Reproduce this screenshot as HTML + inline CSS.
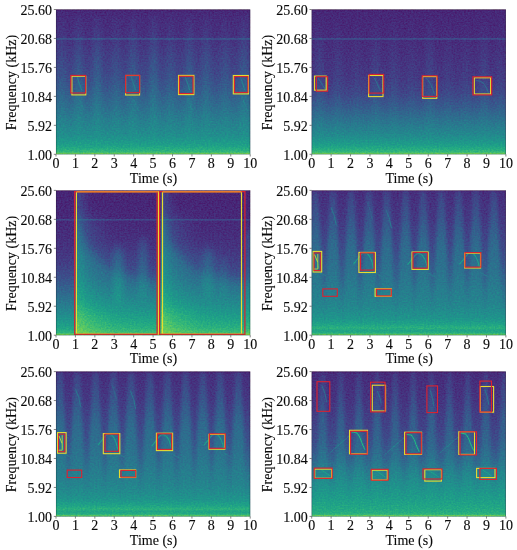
<!DOCTYPE html>
<html><head><meta charset="utf-8"><title>Spectrograms</title>
<style>
html,body{margin:0;padding:0;background:#fff;}
svg{display:block;}
svg text{font-family:"Liberation Serif","Times New Roman",serif;font-size:14px;fill:#0a0a0a;stroke:#0a0a0a;stroke-width:0.12px;}
</style></head><body>
<svg width="517" height="550" viewBox="0 0 517 550"><defs><linearGradient id="bgA" x1="0" y1="0" x2="0" y2="1"><stop offset="0" stop-color="rgb(29,29,29)"/><stop offset="0.2" stop-color="rgb(36,36,36)"/><stop offset="0.33" stop-color="rgb(46,46,46)"/><stop offset="0.45" stop-color="rgb(55,55,55)"/><stop offset="0.555" stop-color="rgb(69,69,69)"/><stop offset="0.667" stop-color="rgb(88,88,88)"/><stop offset="0.76" stop-color="rgb(106,106,106)"/><stop offset="0.87" stop-color="rgb(124,124,124)"/><stop offset="0.94" stop-color="rgb(144,144,144)"/><stop offset="0.975" stop-color="rgb(163,163,163)"/><stop offset="0.986" stop-color="rgb(171,171,171)"/><stop offset="0.992" stop-color="rgb(194,194,194)"/><stop offset="1" stop-color="rgb(204,204,204)"/></linearGradient><linearGradient id="bgB" x1="0" y1="0" x2="0" y2="1"><stop offset="0" stop-color="rgb(28,28,28)"/><stop offset="0.2" stop-color="rgb(31,31,31)"/><stop offset="0.35" stop-color="rgb(36,36,36)"/><stop offset="0.47" stop-color="rgb(41,41,41)"/><stop offset="0.58" stop-color="rgb(52,52,52)"/><stop offset="0.68" stop-color="rgb(73,73,73)"/><stop offset="0.77" stop-color="rgb(96,96,96)"/><stop offset="0.87" stop-color="rgb(120,120,120)"/><stop offset="0.94" stop-color="rgb(143,143,143)"/><stop offset="0.975" stop-color="rgb(163,163,163)"/><stop offset="0.986" stop-color="rgb(171,171,171)"/><stop offset="0.992" stop-color="rgb(194,194,194)"/><stop offset="1" stop-color="rgb(204,204,204)"/></linearGradient><linearGradient id="bgC" x1="0" y1="0" x2="0" y2="1"><stop offset="0" stop-color="rgb(26,26,26)"/><stop offset="0.2" stop-color="rgb(29,29,29)"/><stop offset="0.4" stop-color="rgb(37,37,37)"/><stop offset="0.5" stop-color="rgb(45,45,45)"/><stop offset="0.6" stop-color="rgb(61,61,61)"/><stop offset="0.7" stop-color="rgb(84,84,84)"/><stop offset="0.85" stop-color="rgb(120,120,120)"/><stop offset="0.95" stop-color="rgb(148,148,148)"/><stop offset="0.985" stop-color="rgb(166,166,166)"/><stop offset="0.992" stop-color="rgb(194,194,194)"/><stop offset="1" stop-color="rgb(204,204,204)"/></linearGradient><linearGradient id="bgD" x1="0" y1="0" x2="0" y2="1"><stop offset="0" stop-color="rgb(33,33,33)"/><stop offset="0.2" stop-color="rgb(41,41,41)"/><stop offset="0.4" stop-color="rgb(56,56,56)"/><stop offset="0.5" stop-color="rgb(66,66,66)"/><stop offset="0.6" stop-color="rgb(79,79,79)"/><stop offset="0.7" stop-color="rgb(97,97,97)"/><stop offset="0.8" stop-color="rgb(112,112,112)"/><stop offset="0.88" stop-color="rgb(128,128,128)"/><stop offset="0.925" stop-color="rgb(145,145,145)"/><stop offset="0.95" stop-color="rgb(161,161,161)"/><stop offset="0.968" stop-color="rgb(148,148,148)"/><stop offset="0.985" stop-color="rgb(158,158,158)"/><stop offset="0.994" stop-color="rgb(189,189,189)"/><stop offset="1" stop-color="rgb(204,204,204)"/></linearGradient><linearGradient id="bgE" x1="0" y1="0" x2="0" y2="1"><stop offset="0" stop-color="rgb(31,31,31)"/><stop offset="0.2" stop-color="rgb(38,38,38)"/><stop offset="0.4" stop-color="rgb(51,51,51)"/><stop offset="0.5" stop-color="rgb(61,61,61)"/><stop offset="0.6" stop-color="rgb(79,79,79)"/><stop offset="0.7" stop-color="rgb(105,105,105)"/><stop offset="0.8" stop-color="rgb(125,125,125)"/><stop offset="0.9" stop-color="rgb(143,143,143)"/><stop offset="0.975" stop-color="rgb(158,158,158)"/><stop offset="0.987" stop-color="rgb(168,168,168)"/><stop offset="0.993" stop-color="rgb(194,194,194)"/><stop offset="1" stop-color="rgb(204,204,204)"/></linearGradient><linearGradient id="stk" x1="0" y1="0" x2="0" y2="1"><stop offset="0" stop-color="rgb(255,255,255)" stop-opacity="0.03"/><stop offset="0.15" stop-color="rgb(255,255,255)" stop-opacity="0.07"/><stop offset="0.35" stop-color="rgb(255,255,255)" stop-opacity="0.12"/><stop offset="0.6" stop-color="rgb(255,255,255)" stop-opacity="0.13"/><stop offset="0.8" stop-color="rgb(255,255,255)" stop-opacity="0.07"/><stop offset="0.95" stop-color="rgb(255,255,255)" stop-opacity="0.0"/></linearGradient><linearGradient id="stkD" x1="0" y1="0" x2="0" y2="1"><stop offset="0" stop-color="rgb(255,255,255)" stop-opacity="0.08"/><stop offset="0.2" stop-color="rgb(255,255,255)" stop-opacity="0.13"/><stop offset="0.4" stop-color="rgb(255,255,255)" stop-opacity="0.17"/><stop offset="0.6" stop-color="rgb(255,255,255)" stop-opacity="0.12"/><stop offset="0.75" stop-color="rgb(255,255,255)" stop-opacity="0.05"/><stop offset="0.9" stop-color="rgb(255,255,255)" stop-opacity="0.02"/><stop offset="1" stop-color="rgb(255,255,255)" stop-opacity="0"/></linearGradient><linearGradient id="stkE" x1="0" y1="0" x2="0" y2="1"><stop offset="0" stop-color="rgb(255,255,255)" stop-opacity="0.06"/><stop offset="0.15" stop-color="rgb(255,255,255)" stop-opacity="0.1"/><stop offset="0.35" stop-color="rgb(255,255,255)" stop-opacity="0.14"/><stop offset="0.6" stop-color="rgb(255,255,255)" stop-opacity="0.11"/><stop offset="0.8" stop-color="rgb(255,255,255)" stop-opacity="0.05"/><stop offset="0.95" stop-color="rgb(255,255,255)" stop-opacity="0"/></linearGradient><linearGradient id="burst" x1="0" y1="0" x2="0" y2="1"><stop offset="0" stop-color="rgb(255,255,255)" stop-opacity="0.1"/><stop offset="0.3" stop-color="rgb(255,255,255)" stop-opacity="0.22"/><stop offset="0.6" stop-color="rgb(255,255,255)" stop-opacity="0.3"/><stop offset="0.85" stop-color="rgb(255,255,255)" stop-opacity="0.32"/><stop offset="1" stop-color="rgb(255,255,255)" stop-opacity="0.36"/></linearGradient><filter id="bl3" x="-100%" y="-10%" width="300%" height="120%"><feGaussianBlur stdDeviation="2.4 3"/></filter><filter id="bl2" x="-100%" y="-10%" width="300%" height="120%"><feGaussianBlur stdDeviation="1.5 3"/></filter><filter id="bl5" x="-30%" y="-30%" width="160%" height="160%"><feGaussianBlur stdDeviation="5 7"/></filter><filter id="bl4" x="-30%" y="-30%" width="160%" height="160%"><feGaussianBlur stdDeviation="3 4"/></filter><filter id="vir0" filterUnits="userSpaceOnUse" x="0" y="0" width="194" height="144" color-interpolation-filters="sRGB"><feTurbulence type="fractalNoise" baseFrequency="0.55 0.7" numOctaves="2" seed="3" result="t"/><feColorMatrix in="t" type="matrix" values="1 0 0 0 0  1 0 0 0 0  1 0 0 0 0  0 0 0 0 1" result="n"/><feComposite in="SourceGraphic" in2="n" operator="arithmetic" k1="0" k2="1" k3="0.16" k4="-0.08" result="m"/><feComponentTransfer in="m"><feFuncR type="table" tableValues="0.267 0.277 0.282 0.283 0.279 0.271 0.259 0.245 0.230 0.214 0.199 0.186 0.173 0.161 0.149 0.138 0.128 0.121 0.121 0.132 0.158 0.197 0.246 0.304 0.369 0.440 0.516 0.596 0.678 0.762 0.846 0.926 0.993"/><feFuncG type="table" tableValues="0.005 0.050 0.095 0.136 0.175 0.214 0.252 0.288 0.322 0.356 0.388 0.419 0.449 0.479 0.508 0.537 0.567 0.596 0.626 0.655 0.684 0.712 0.739 0.765 0.789 0.811 0.831 0.849 0.864 0.876 0.887 0.897 0.906"/><feFuncB type="table" tableValues="0.329 0.376 0.417 0.453 0.483 0.507 0.525 0.537 0.546 0.551 0.555 0.557 0.558 0.558 0.557 0.555 0.551 0.544 0.533 0.520 0.502 0.479 0.452 0.420 0.383 0.341 0.294 0.243 0.190 0.137 0.100 0.104 0.144"/><feFuncA type="linear" slope="0" intercept="1"/></feComponentTransfer></filter><clipPath id="cp0"><rect x="0" y="0" width="194" height="144"/></clipPath><filter id="vir1" filterUnits="userSpaceOnUse" x="0" y="0" width="194" height="144" color-interpolation-filters="sRGB"><feTurbulence type="fractalNoise" baseFrequency="0.55 0.7" numOctaves="2" seed="10" result="t"/><feColorMatrix in="t" type="matrix" values="1 0 0 0 0  1 0 0 0 0  1 0 0 0 0  0 0 0 0 1" result="n"/><feComposite in="SourceGraphic" in2="n" operator="arithmetic" k1="0" k2="1" k3="0.16" k4="-0.08" result="m"/><feComponentTransfer in="m"><feFuncR type="table" tableValues="0.267 0.277 0.282 0.283 0.279 0.271 0.259 0.245 0.230 0.214 0.199 0.186 0.173 0.161 0.149 0.138 0.128 0.121 0.121 0.132 0.158 0.197 0.246 0.304 0.369 0.440 0.516 0.596 0.678 0.762 0.846 0.926 0.993"/><feFuncG type="table" tableValues="0.005 0.050 0.095 0.136 0.175 0.214 0.252 0.288 0.322 0.356 0.388 0.419 0.449 0.479 0.508 0.537 0.567 0.596 0.626 0.655 0.684 0.712 0.739 0.765 0.789 0.811 0.831 0.849 0.864 0.876 0.887 0.897 0.906"/><feFuncB type="table" tableValues="0.329 0.376 0.417 0.453 0.483 0.507 0.525 0.537 0.546 0.551 0.555 0.557 0.558 0.558 0.557 0.555 0.551 0.544 0.533 0.520 0.502 0.479 0.452 0.420 0.383 0.341 0.294 0.243 0.190 0.137 0.100 0.104 0.144"/><feFuncA type="linear" slope="0" intercept="1"/></feComponentTransfer></filter><clipPath id="cp1"><rect x="0" y="0" width="194" height="144"/></clipPath><filter id="vir2" filterUnits="userSpaceOnUse" x="0" y="0" width="194" height="144" color-interpolation-filters="sRGB"><feTurbulence type="fractalNoise" baseFrequency="0.55 0.7" numOctaves="2" seed="17" result="t"/><feColorMatrix in="t" type="matrix" values="1 0 0 0 0  1 0 0 0 0  1 0 0 0 0  0 0 0 0 1" result="n"/><feComposite in="SourceGraphic" in2="n" operator="arithmetic" k1="0" k2="1" k3="0.16" k4="-0.08" result="m"/><feComponentTransfer in="m"><feFuncR type="table" tableValues="0.267 0.277 0.282 0.283 0.279 0.271 0.259 0.245 0.230 0.214 0.199 0.186 0.173 0.161 0.149 0.138 0.128 0.121 0.121 0.132 0.158 0.197 0.246 0.304 0.369 0.440 0.516 0.596 0.678 0.762 0.846 0.926 0.993"/><feFuncG type="table" tableValues="0.005 0.050 0.095 0.136 0.175 0.214 0.252 0.288 0.322 0.356 0.388 0.419 0.449 0.479 0.508 0.537 0.567 0.596 0.626 0.655 0.684 0.712 0.739 0.765 0.789 0.811 0.831 0.849 0.864 0.876 0.887 0.897 0.906"/><feFuncB type="table" tableValues="0.329 0.376 0.417 0.453 0.483 0.507 0.525 0.537 0.546 0.551 0.555 0.557 0.558 0.558 0.557 0.555 0.551 0.544 0.533 0.520 0.502 0.479 0.452 0.420 0.383 0.341 0.294 0.243 0.190 0.137 0.100 0.104 0.144"/><feFuncA type="linear" slope="0" intercept="1"/></feComponentTransfer></filter><clipPath id="cp2"><rect x="0" y="0" width="194" height="144"/></clipPath><filter id="vir3" filterUnits="userSpaceOnUse" x="0" y="0" width="194" height="144" color-interpolation-filters="sRGB"><feTurbulence type="fractalNoise" baseFrequency="0.55 0.7" numOctaves="2" seed="24" result="t"/><feColorMatrix in="t" type="matrix" values="1 0 0 0 0  1 0 0 0 0  1 0 0 0 0  0 0 0 0 1" result="n"/><feComposite in="SourceGraphic" in2="n" operator="arithmetic" k1="0" k2="1" k3="0.16" k4="-0.08" result="m"/><feComponentTransfer in="m"><feFuncR type="table" tableValues="0.267 0.277 0.282 0.283 0.279 0.271 0.259 0.245 0.230 0.214 0.199 0.186 0.173 0.161 0.149 0.138 0.128 0.121 0.121 0.132 0.158 0.197 0.246 0.304 0.369 0.440 0.516 0.596 0.678 0.762 0.846 0.926 0.993"/><feFuncG type="table" tableValues="0.005 0.050 0.095 0.136 0.175 0.214 0.252 0.288 0.322 0.356 0.388 0.419 0.449 0.479 0.508 0.537 0.567 0.596 0.626 0.655 0.684 0.712 0.739 0.765 0.789 0.811 0.831 0.849 0.864 0.876 0.887 0.897 0.906"/><feFuncB type="table" tableValues="0.329 0.376 0.417 0.453 0.483 0.507 0.525 0.537 0.546 0.551 0.555 0.557 0.558 0.558 0.557 0.555 0.551 0.544 0.533 0.520 0.502 0.479 0.452 0.420 0.383 0.341 0.294 0.243 0.190 0.137 0.100 0.104 0.144"/><feFuncA type="linear" slope="0" intercept="1"/></feComponentTransfer></filter><clipPath id="cp3"><rect x="0" y="0" width="194" height="144"/></clipPath><filter id="vir4" filterUnits="userSpaceOnUse" x="0" y="0" width="194" height="144" color-interpolation-filters="sRGB"><feTurbulence type="fractalNoise" baseFrequency="0.55 0.7" numOctaves="2" seed="31" result="t"/><feColorMatrix in="t" type="matrix" values="1 0 0 0 0  1 0 0 0 0  1 0 0 0 0  0 0 0 0 1" result="n"/><feComposite in="SourceGraphic" in2="n" operator="arithmetic" k1="0" k2="1" k3="0.16" k4="-0.08" result="m"/><feComponentTransfer in="m"><feFuncR type="table" tableValues="0.267 0.277 0.282 0.283 0.279 0.271 0.259 0.245 0.230 0.214 0.199 0.186 0.173 0.161 0.149 0.138 0.128 0.121 0.121 0.132 0.158 0.197 0.246 0.304 0.369 0.440 0.516 0.596 0.678 0.762 0.846 0.926 0.993"/><feFuncG type="table" tableValues="0.005 0.050 0.095 0.136 0.175 0.214 0.252 0.288 0.322 0.356 0.388 0.419 0.449 0.479 0.508 0.537 0.567 0.596 0.626 0.655 0.684 0.712 0.739 0.765 0.789 0.811 0.831 0.849 0.864 0.876 0.887 0.897 0.906"/><feFuncB type="table" tableValues="0.329 0.376 0.417 0.453 0.483 0.507 0.525 0.537 0.546 0.551 0.555 0.557 0.558 0.558 0.557 0.555 0.551 0.544 0.533 0.520 0.502 0.479 0.452 0.420 0.383 0.341 0.294 0.243 0.190 0.137 0.100 0.104 0.144"/><feFuncA type="linear" slope="0" intercept="1"/></feComponentTransfer></filter><clipPath id="cp4"><rect x="0" y="0" width="194" height="144"/></clipPath><filter id="vir5" filterUnits="userSpaceOnUse" x="0" y="0" width="194" height="144" color-interpolation-filters="sRGB"><feTurbulence type="fractalNoise" baseFrequency="0.55 0.7" numOctaves="2" seed="38" result="t"/><feColorMatrix in="t" type="matrix" values="1 0 0 0 0  1 0 0 0 0  1 0 0 0 0  0 0 0 0 1" result="n"/><feComposite in="SourceGraphic" in2="n" operator="arithmetic" k1="0" k2="1" k3="0.16" k4="-0.08" result="m"/><feComponentTransfer in="m"><feFuncR type="table" tableValues="0.267 0.277 0.282 0.283 0.279 0.271 0.259 0.245 0.230 0.214 0.199 0.186 0.173 0.161 0.149 0.138 0.128 0.121 0.121 0.132 0.158 0.197 0.246 0.304 0.369 0.440 0.516 0.596 0.678 0.762 0.846 0.926 0.993"/><feFuncG type="table" tableValues="0.005 0.050 0.095 0.136 0.175 0.214 0.252 0.288 0.322 0.356 0.388 0.419 0.449 0.479 0.508 0.537 0.567 0.596 0.626 0.655 0.684 0.712 0.739 0.765 0.789 0.811 0.831 0.849 0.864 0.876 0.887 0.897 0.906"/><feFuncB type="table" tableValues="0.329 0.376 0.417 0.453 0.483 0.507 0.525 0.537 0.546 0.551 0.555 0.557 0.558 0.558 0.557 0.555 0.551 0.544 0.533 0.520 0.502 0.479 0.452 0.420 0.383 0.341 0.294 0.243 0.190 0.137 0.100 0.104 0.144"/><feFuncA type="linear" slope="0" intercept="1"/></feComponentTransfer></filter><clipPath id="cp5"><rect x="0" y="0" width="194" height="144"/></clipPath><clipPath id="cb1"><rect x="19.8" y="0" width="85" height="144"/></clipPath><clipPath id="cb2"><rect x="104.8" y="0" width="90" height="144"/></clipPath></defs><rect width="517" height="550" fill="#ffffff"/><g transform="translate(56.0,9.5) scale(1.00103,1.00556)"><g clip-path="url(#cp0)"><g filter="url(#vir0)"><rect width="194" height="144" fill="url(#bgA)"/><rect x="2.1" y="6" width="7" height="138" fill="url(#stk)" filter="url(#bl3)" opacity="0.5"/><rect x="19.0" y="6" width="7" height="138" fill="url(#stk)" filter="url(#bl3)" opacity="0.8"/><rect x="37.8" y="6" width="7" height="138" fill="url(#stk)" filter="url(#bl3)" opacity="0.9"/><rect x="56.5" y="6" width="7" height="138" fill="url(#stk)" filter="url(#bl3)" opacity="0.5"/><rect x="73.5" y="6" width="7" height="138" fill="url(#stk)" filter="url(#bl3)" opacity="0.8"/><rect x="94.1" y="6" width="7" height="138" fill="url(#stk)" filter="url(#bl3)" opacity="0.9"/><rect x="110.9" y="6" width="7" height="138" fill="url(#stk)" filter="url(#bl3)" opacity="0.5"/><rect x="129.7" y="6" width="7" height="138" fill="url(#stk)" filter="url(#bl3)" opacity="0.8"/><rect x="146.5" y="6" width="7" height="138" fill="url(#stk)" filter="url(#bl3)" opacity="0.7"/><rect x="165.5" y="6" width="7" height="138" fill="url(#stk)" filter="url(#bl3)" opacity="0.5"/><rect x="184.1" y="6" width="7" height="138" fill="url(#stk)" filter="url(#bl3)" opacity="0.8"/><rect x="0" y="28.5" width="194" height="1.5" fill="#fff" opacity="0.14"/><path d="M21.0 66.5 L25.5 80" fill="none" stroke="#fff" stroke-width="0.9" opacity="0.22" stroke-linecap="round"/><path d="M24.0 90 L28.0 100" fill="none" stroke="#fff" stroke-width="0.9" opacity="0.1" stroke-linecap="round"/><path d="M75.0 66.5 L79.5 80" fill="none" stroke="#fff" stroke-width="0.9" opacity="0.22" stroke-linecap="round"/><path d="M78.0 90 L82.0 100" fill="none" stroke="#fff" stroke-width="0.9" opacity="0.1" stroke-linecap="round"/><path d="M129.0 66.5 L133.5 80" fill="none" stroke="#fff" stroke-width="0.9" opacity="0.22" stroke-linecap="round"/><path d="M132.0 90 L136.0 100" fill="none" stroke="#fff" stroke-width="0.9" opacity="0.1" stroke-linecap="round"/><path d="M184.0 66.5 L188.5 80" fill="none" stroke="#fff" stroke-width="0.9" opacity="0.22" stroke-linecap="round"/><path d="M187.0 90 L191.0 100" fill="none" stroke="#fff" stroke-width="0.9" opacity="0.1" stroke-linecap="round"/><rect x="0" y="0" width="194" height="0.9" fill="#000" opacity="0.45"/></g></g></g><g transform="translate(56,10)"><rect x="15.9" y="66.2" width="13.9" height="18.7" fill="none" stroke="#e8dc30" stroke-width="1.1"/><rect x="14.8" y="65.4" width="14.8" height="17.6" fill="none" stroke="#dc2230" stroke-width="1.1"/><rect x="69.6" y="65.5" width="14.0" height="19.5" fill="none" stroke="#e8dc30" stroke-width="1.1"/><rect x="69.6" y="65.3" width="14.0" height="17.4" fill="none" stroke="#dc2230" stroke-width="1.1"/><rect x="122.5" y="65.4" width="15.4" height="19.2" fill="none" stroke="#e8dc30" stroke-width="1.1"/><rect x="123.4" y="66.3" width="13.6" height="17.2" fill="none" stroke="#dc2230" stroke-width="1.1"/><rect x="177.3" y="65.5" width="15.1" height="18.4" fill="none" stroke="#e8dc30" stroke-width="1.1"/><rect x="178.5" y="66.6" width="13.4" height="15.8" fill="none" stroke="#dc2230" stroke-width="1.1"/></g><g transform="translate(56.0,9.5)"><rect x="0.2" y="0.2" width="193.8" height="144.4" fill="none" stroke="#000" stroke-opacity="0.38" stroke-width="0.6"/><line x1="-2.2" x2="0" y1="0.00" y2="0.00" stroke="#333" stroke-width="0.6"/><text x="-4" y="5.60" text-anchor="end">25.60</text><line x1="-2.2" x2="0" y1="28.96" y2="28.96" stroke="#333" stroke-width="0.6"/><text x="-4" y="34.56" text-anchor="end">20.68</text><line x1="-2.2" x2="0" y1="57.92" y2="57.92" stroke="#333" stroke-width="0.6"/><text x="-4" y="63.52" text-anchor="end">15.76</text><line x1="-2.2" x2="0" y1="86.88" y2="86.88" stroke="#333" stroke-width="0.6"/><text x="-4" y="92.48" text-anchor="end">10.84</text><line x1="-2.2" x2="0" y1="115.84" y2="115.84" stroke="#333" stroke-width="0.6"/><text x="-4" y="121.44" text-anchor="end">5.92</text><line x1="-2.2" x2="0" y1="144.80" y2="144.80" stroke="#333" stroke-width="0.6"/><text x="-4" y="150.40" text-anchor="end">1.00</text><line y1="144.8" y2="147.0" x1="0.00" x2="0.00" stroke="#333" stroke-width="0.6"/><text x="0.00" y="158.70" text-anchor="middle">0</text><line y1="144.8" y2="147.0" x1="19.42" x2="19.42" stroke="#333" stroke-width="0.6"/><text x="19.42" y="158.70" text-anchor="middle">1</text><line y1="144.8" y2="147.0" x1="38.84" x2="38.84" stroke="#333" stroke-width="0.6"/><text x="38.84" y="158.70" text-anchor="middle">2</text><line y1="144.8" y2="147.0" x1="58.26" x2="58.26" stroke="#333" stroke-width="0.6"/><text x="58.26" y="158.70" text-anchor="middle">3</text><line y1="144.8" y2="147.0" x1="77.68" x2="77.68" stroke="#333" stroke-width="0.6"/><text x="77.68" y="158.70" text-anchor="middle">4</text><line y1="144.8" y2="147.0" x1="97.10" x2="97.10" stroke="#333" stroke-width="0.6"/><text x="97.10" y="158.70" text-anchor="middle">5</text><line y1="144.8" y2="147.0" x1="116.52" x2="116.52" stroke="#333" stroke-width="0.6"/><text x="116.52" y="158.70" text-anchor="middle">6</text><line y1="144.8" y2="147.0" x1="135.94" x2="135.94" stroke="#333" stroke-width="0.6"/><text x="135.94" y="158.70" text-anchor="middle">7</text><line y1="144.8" y2="147.0" x1="155.36" x2="155.36" stroke="#333" stroke-width="0.6"/><text x="155.36" y="158.70" text-anchor="middle">8</text><line y1="144.8" y2="147.0" x1="174.78" x2="174.78" stroke="#333" stroke-width="0.6"/><text x="174.78" y="158.70" text-anchor="middle">9</text><line y1="144.8" y2="147.0" x1="194.20" x2="194.20" stroke="#333" stroke-width="0.6"/><text x="194.20" y="158.70" text-anchor="middle">10</text><text x="97.5" y="173.10" text-anchor="middle">Time (s)</text><text transform="translate(-39.8,73) rotate(-90)" text-anchor="middle">Frequency (kHz)</text></g><g transform="translate(311.7,9.5) scale(1.00103,1.00556)"><g clip-path="url(#cp1)"><g filter="url(#vir1)"><rect width="194" height="144" fill="url(#bgB)"/><rect x="4.5" y="10" width="7" height="134" fill="url(#stk)" filter="url(#bl3)" opacity="0.55"/><rect x="22.5" y="10" width="7" height="134" fill="url(#stk)" filter="url(#bl3)" opacity="0.4"/><rect x="41.5" y="10" width="7" height="134" fill="url(#stk)" filter="url(#bl3)" opacity="0.25"/><rect x="60.5" y="10" width="7" height="134" fill="url(#stk)" filter="url(#bl3)" opacity="0.5"/><rect x="78.5" y="10" width="7" height="134" fill="url(#stk)" filter="url(#bl3)" opacity="0.4"/><rect x="96.5" y="10" width="7" height="134" fill="url(#stk)" filter="url(#bl3)" opacity="0.25"/><rect x="114.5" y="10" width="7" height="134" fill="url(#stk)" filter="url(#bl3)" opacity="0.55"/><rect x="132.5" y="10" width="7" height="134" fill="url(#stk)" filter="url(#bl3)" opacity="0.25"/><rect x="150.5" y="10" width="7" height="134" fill="url(#stk)" filter="url(#bl3)" opacity="0.25"/><rect x="168.5" y="10" width="7" height="134" fill="url(#stk)" filter="url(#bl3)" opacity="0.5"/><rect x="184.5" y="10" width="7" height="134" fill="url(#stk)" filter="url(#bl3)" opacity="0.25"/><rect x="0" y="28.5" width="194" height="1.5" fill="#fff" opacity="0.14"/><path d="M6.6 68.4 L13.3 79" fill="none" stroke="#fff" stroke-width="0.9" opacity="0.22" stroke-linecap="round"/><path d="M62.7 68.4 Q66 74 68.5 81" fill="none" stroke="#fff" stroke-width="0.9" opacity="0.22" stroke-linecap="round"/><path d="M114.3 68.4 Q119 72 122.5 84" fill="none" stroke="#fff" stroke-width="0.9" opacity="0.22" stroke-linecap="round"/><path d="M164.6 70.6 Q173 70 176.5 83" fill="none" stroke="#fff" stroke-width="0.9" opacity="0.22" stroke-linecap="round"/><rect x="0" y="0" width="194" height="0.9" fill="#000" opacity="0.45"/></g></g></g><g transform="translate(312,10)"><rect x="2.5" y="66.1" width="11.7" height="14.1" fill="none" stroke="#e8dc30" stroke-width="1.1"/><rect x="4.3" y="66.7" width="11.3" height="14.5" fill="none" stroke="#dc2230" stroke-width="1.1"/><rect x="56.6" y="65.5" width="14.4" height="21.1" fill="none" stroke="#e8dc30" stroke-width="1.1"/><rect x="57.1" y="64.4" width="14.6" height="18.7" fill="none" stroke="#dc2230" stroke-width="1.1"/><rect x="110.7" y="66.6" width="14.1" height="21.7" fill="none" stroke="#e8dc30" stroke-width="1.1"/><rect x="110.2" y="65.8" width="15.0" height="20.6" fill="none" stroke="#dc2230" stroke-width="1.1"/><rect x="162.3" y="67.8" width="16.3" height="16.2" fill="none" stroke="#e8dc30" stroke-width="1.1"/><rect x="160.9" y="66.8" width="18.8" height="18.1" fill="none" stroke="#dc2230" stroke-width="1.1"/></g><g transform="translate(311.7,9.5)"><rect x="0.2" y="0.2" width="193.8" height="144.4" fill="none" stroke="#000" stroke-opacity="0.38" stroke-width="0.6"/><line x1="-2.2" x2="0" y1="0.00" y2="0.00" stroke="#333" stroke-width="0.6"/><text x="-4" y="5.60" text-anchor="end">25.60</text><line x1="-2.2" x2="0" y1="28.96" y2="28.96" stroke="#333" stroke-width="0.6"/><text x="-4" y="34.56" text-anchor="end">20.68</text><line x1="-2.2" x2="0" y1="57.92" y2="57.92" stroke="#333" stroke-width="0.6"/><text x="-4" y="63.52" text-anchor="end">15.76</text><line x1="-2.2" x2="0" y1="86.88" y2="86.88" stroke="#333" stroke-width="0.6"/><text x="-4" y="92.48" text-anchor="end">10.84</text><line x1="-2.2" x2="0" y1="115.84" y2="115.84" stroke="#333" stroke-width="0.6"/><text x="-4" y="121.44" text-anchor="end">5.92</text><line x1="-2.2" x2="0" y1="144.80" y2="144.80" stroke="#333" stroke-width="0.6"/><text x="-4" y="150.40" text-anchor="end">1.00</text><line y1="144.8" y2="147.0" x1="0.00" x2="0.00" stroke="#333" stroke-width="0.6"/><text x="0.00" y="158.70" text-anchor="middle">0</text><line y1="144.8" y2="147.0" x1="19.42" x2="19.42" stroke="#333" stroke-width="0.6"/><text x="19.42" y="158.70" text-anchor="middle">1</text><line y1="144.8" y2="147.0" x1="38.84" x2="38.84" stroke="#333" stroke-width="0.6"/><text x="38.84" y="158.70" text-anchor="middle">2</text><line y1="144.8" y2="147.0" x1="58.26" x2="58.26" stroke="#333" stroke-width="0.6"/><text x="58.26" y="158.70" text-anchor="middle">3</text><line y1="144.8" y2="147.0" x1="77.68" x2="77.68" stroke="#333" stroke-width="0.6"/><text x="77.68" y="158.70" text-anchor="middle">4</text><line y1="144.8" y2="147.0" x1="97.10" x2="97.10" stroke="#333" stroke-width="0.6"/><text x="97.10" y="158.70" text-anchor="middle">5</text><line y1="144.8" y2="147.0" x1="116.52" x2="116.52" stroke="#333" stroke-width="0.6"/><text x="116.52" y="158.70" text-anchor="middle">6</text><line y1="144.8" y2="147.0" x1="135.94" x2="135.94" stroke="#333" stroke-width="0.6"/><text x="135.94" y="158.70" text-anchor="middle">7</text><line y1="144.8" y2="147.0" x1="155.36" x2="155.36" stroke="#333" stroke-width="0.6"/><text x="155.36" y="158.70" text-anchor="middle">8</text><line y1="144.8" y2="147.0" x1="174.78" x2="174.78" stroke="#333" stroke-width="0.6"/><text x="174.78" y="158.70" text-anchor="middle">9</text><line y1="144.8" y2="147.0" x1="194.20" x2="194.20" stroke="#333" stroke-width="0.6"/><text x="194.20" y="158.70" text-anchor="middle">10</text><text x="97.5" y="173.10" text-anchor="middle">Time (s)</text><text transform="translate(-39.8,73) rotate(-90)" text-anchor="middle">Frequency (kHz)</text></g><g transform="translate(56.0,190.4) scale(1.00103,1.00556)"><g clip-path="url(#cp2)"><g filter="url(#vir2)"><rect width="194" height="144" fill="url(#bgC)"/><g clip-path="url(#cb1)"><linearGradient id="hgcb10" x1="0" y1="0" x2="1" y2="0"><stop offset="0" stop-color="#fff" stop-opacity="0.14"/><stop offset="0.533" stop-color="#fff" stop-opacity="0.14"/><stop offset="1" stop-color="#fff" stop-opacity="0"/></linearGradient><rect x="3.8000000000000007" y="-10" width="30" height="180" fill="url(#hgcb10)" filter="url(#bl4)"/><linearGradient id="hgcb11" x1="0" y1="0" x2="1" y2="0"><stop offset="0" stop-color="#fff" stop-opacity="0.13"/><stop offset="0.308" stop-color="#fff" stop-opacity="0.13"/><stop offset="1" stop-color="#fff" stop-opacity="0"/></linearGradient><rect x="3.8000000000000007" y="26" width="52" height="144" fill="url(#hgcb11)" filter="url(#bl5)"/><linearGradient id="hgcb12" x1="0" y1="0" x2="1" y2="0"><stop offset="0" stop-color="#fff" stop-opacity="0.1"/><stop offset="0.160" stop-color="#fff" stop-opacity="0.1"/><stop offset="1" stop-color="#fff" stop-opacity="0"/></linearGradient><rect x="3.8000000000000007" y="58" width="100" height="112" fill="url(#hgcb12)" filter="url(#bl5)"/><linearGradient id="hgcb13" x1="0" y1="0" x2="1" y2="0"><stop offset="0" stop-color="#fff" stop-opacity="0.12"/><stop offset="0.262" stop-color="#fff" stop-opacity="0.12"/><stop offset="1" stop-color="#fff" stop-opacity="0"/></linearGradient><rect x="3.8000000000000007" y="118" width="61" height="52" fill="url(#hgcb13)" filter="url(#bl4)"/><path d="M7.800000000000001 30 L19.8 30 C27.8 52 39.8 70 57.8 80 L79.8 86 L114.8 92 L114.8 170 L7.800000000000001 170 Z" fill="#fff" opacity="0.10" filter="url(#bl4)"/><ellipse cx="62" cy="84" rx="5" ry="30" fill="#fff" opacity="0.17" filter="url(#bl4)"/><ellipse cx="87" cy="78" rx="4" ry="32" fill="#fff" opacity="0.16" filter="url(#bl4)"/></g><g clip-path="url(#cb2)"><linearGradient id="hgcb20" x1="0" y1="0" x2="1" y2="0"><stop offset="0" stop-color="#fff" stop-opacity="0.14"/><stop offset="0.533" stop-color="#fff" stop-opacity="0.14"/><stop offset="1" stop-color="#fff" stop-opacity="0"/></linearGradient><rect x="88.8" y="-10" width="30" height="180" fill="url(#hgcb20)" filter="url(#bl4)"/><linearGradient id="hgcb21" x1="0" y1="0" x2="1" y2="0"><stop offset="0" stop-color="#fff" stop-opacity="0.13"/><stop offset="0.308" stop-color="#fff" stop-opacity="0.13"/><stop offset="1" stop-color="#fff" stop-opacity="0"/></linearGradient><rect x="88.8" y="26" width="52" height="144" fill="url(#hgcb21)" filter="url(#bl5)"/><linearGradient id="hgcb22" x1="0" y1="0" x2="1" y2="0"><stop offset="0" stop-color="#fff" stop-opacity="0.1"/><stop offset="0.160" stop-color="#fff" stop-opacity="0.1"/><stop offset="1" stop-color="#fff" stop-opacity="0"/></linearGradient><rect x="88.8" y="58" width="100" height="112" fill="url(#hgcb22)" filter="url(#bl5)"/><linearGradient id="hgcb23" x1="0" y1="0" x2="1" y2="0"><stop offset="0" stop-color="#fff" stop-opacity="0.12"/><stop offset="0.262" stop-color="#fff" stop-opacity="0.12"/><stop offset="1" stop-color="#fff" stop-opacity="0"/></linearGradient><rect x="88.8" y="118" width="61" height="52" fill="url(#hgcb23)" filter="url(#bl4)"/><path d="M92.8 30 L104.8 30 C112.8 52 124.8 70 142.8 80 L164.8 86 L199.8 92 L199.8 170 L92.8 170 Z" fill="#fff" opacity="0.10" filter="url(#bl4)"/><ellipse cx="152" cy="82" rx="6" ry="26" fill="#fff" opacity="0.13" filter="url(#bl4)"/><ellipse cx="167" cy="88" rx="4" ry="22" fill="#fff" opacity="0.08" filter="url(#bl4)"/></g><rect x="0" y="28.5" width="194" height="1.5" fill="#fff" opacity="0.13"/><rect x="190.3" y="40" width="6" height="120" fill="#fff" opacity="0.16" filter="url(#bl4)"/><rect x="0" y="0" width="194" height="0.9" fill="#000" opacity="0.45"/></g></g></g><g transform="translate(56,191)"><rect x="20.4" y="0.7" width="82.0" height="142.5" fill="none" stroke="#e8dc30" stroke-width="1.2"/><rect x="18.7" y="0.6" width="82.4" height="142.7" fill="none" stroke="#dc2230" stroke-width="1.2"/><rect x="106.5" y="0.7" width="79.0" height="142.5" fill="none" stroke="#e8dc30" stroke-width="1.2"/><rect x="103.6" y="0.6" width="85.3" height="142.7" fill="none" stroke="#dc2230" stroke-width="1.2"/><rect x="20.4" y="-0.05" width="82.0" height="1.4" fill="#e87a2a"/><rect x="106.5" y="-0.05" width="79.0" height="1.4" fill="#e87a2a"/></g><g transform="translate(56.0,190.4)"><rect x="0.2" y="0.2" width="193.8" height="144.4" fill="none" stroke="#000" stroke-opacity="0.38" stroke-width="0.6"/><line x1="-2.2" x2="0" y1="0.00" y2="0.00" stroke="#333" stroke-width="0.6"/><text x="-4" y="5.60" text-anchor="end">25.60</text><line x1="-2.2" x2="0" y1="28.96" y2="28.96" stroke="#333" stroke-width="0.6"/><text x="-4" y="34.56" text-anchor="end">20.68</text><line x1="-2.2" x2="0" y1="57.92" y2="57.92" stroke="#333" stroke-width="0.6"/><text x="-4" y="63.52" text-anchor="end">15.76</text><line x1="-2.2" x2="0" y1="86.88" y2="86.88" stroke="#333" stroke-width="0.6"/><text x="-4" y="92.48" text-anchor="end">10.84</text><line x1="-2.2" x2="0" y1="115.84" y2="115.84" stroke="#333" stroke-width="0.6"/><text x="-4" y="121.44" text-anchor="end">5.92</text><line x1="-2.2" x2="0" y1="144.80" y2="144.80" stroke="#333" stroke-width="0.6"/><text x="-4" y="150.40" text-anchor="end">1.00</text><line y1="144.8" y2="147.0" x1="0.00" x2="0.00" stroke="#333" stroke-width="0.6"/><text x="0.00" y="158.70" text-anchor="middle">0</text><line y1="144.8" y2="147.0" x1="19.42" x2="19.42" stroke="#333" stroke-width="0.6"/><text x="19.42" y="158.70" text-anchor="middle">1</text><line y1="144.8" y2="147.0" x1="38.84" x2="38.84" stroke="#333" stroke-width="0.6"/><text x="38.84" y="158.70" text-anchor="middle">2</text><line y1="144.8" y2="147.0" x1="58.26" x2="58.26" stroke="#333" stroke-width="0.6"/><text x="58.26" y="158.70" text-anchor="middle">3</text><line y1="144.8" y2="147.0" x1="77.68" x2="77.68" stroke="#333" stroke-width="0.6"/><text x="77.68" y="158.70" text-anchor="middle">4</text><line y1="144.8" y2="147.0" x1="97.10" x2="97.10" stroke="#333" stroke-width="0.6"/><text x="97.10" y="158.70" text-anchor="middle">5</text><line y1="144.8" y2="147.0" x1="116.52" x2="116.52" stroke="#333" stroke-width="0.6"/><text x="116.52" y="158.70" text-anchor="middle">6</text><line y1="144.8" y2="147.0" x1="135.94" x2="135.94" stroke="#333" stroke-width="0.6"/><text x="135.94" y="158.70" text-anchor="middle">7</text><line y1="144.8" y2="147.0" x1="155.36" x2="155.36" stroke="#333" stroke-width="0.6"/><text x="155.36" y="158.70" text-anchor="middle">8</text><line y1="144.8" y2="147.0" x1="174.78" x2="174.78" stroke="#333" stroke-width="0.6"/><text x="174.78" y="158.70" text-anchor="middle">9</text><line y1="144.8" y2="147.0" x1="194.20" x2="194.20" stroke="#333" stroke-width="0.6"/><text x="194.20" y="158.70" text-anchor="middle">10</text><text x="97.5" y="173.10" text-anchor="middle">Time (s)</text><text transform="translate(-39.8,73) rotate(-90)" text-anchor="middle">Frequency (kHz)</text></g><g transform="translate(311.7,190.4) scale(1.00103,1.00556)"><g clip-path="url(#cp3)"><g filter="url(#vir3)"><rect width="194" height="144" fill="url(#bgD)"/><path d="M0.8 0 L6.8 0 L9.8 72 L11.3 144 L-3.7 144 L-2.2 72 Z" fill="url(#stkD)" filter="url(#bl2)" opacity="1"/><path d="M18.2 0 L24.2 0 L27.2 72 L28.7 144 L13.7 144 L15.2 72 Z" fill="url(#stkD)" filter="url(#bl2)" opacity="1"/><path d="M36.5 0 L42.5 0 L45.5 72 L47.0 144 L32.0 144 L33.5 72 Z" fill="url(#stkD)" filter="url(#bl2)" opacity="1"/><path d="M54.5 0 L60.5 0 L63.5 72 L65.0 144 L50.0 144 L51.5 72 Z" fill="url(#stkD)" filter="url(#bl2)" opacity="1"/><path d="M72.0 0 L78.0 0 L81.0 72 L82.5 144 L67.5 144 L69.0 72 Z" fill="url(#stkD)" filter="url(#bl2)" opacity="1"/><path d="M90.8 0 L96.8 0 L99.8 72 L101.3 144 L86.3 144 L87.8 72 Z" fill="url(#stkD)" filter="url(#bl2)" opacity="1"/><path d="M108.5 0 L114.5 0 L117.5 72 L119.0 144 L104.0 144 L105.5 72 Z" fill="url(#stkD)" filter="url(#bl2)" opacity="1"/><path d="M126.5 0 L132.5 0 L135.5 72 L137.0 144 L122.0 144 L123.5 72 Z" fill="url(#stkD)" filter="url(#bl2)" opacity="1"/><path d="M143.8 0 L149.8 0 L152.8 72 L154.3 144 L139.3 144 L140.8 72 Z" fill="url(#stkD)" filter="url(#bl2)" opacity="1"/><path d="M161.0 0 L167.0 0 L170.0 72 L171.5 144 L156.5 144 L158.0 72 Z" fill="url(#stkD)" filter="url(#bl2)" opacity="1"/><path d="M179.0 0 L185.0 0 L188.0 72 L189.5 144 L174.5 144 L176.0 72 Z" fill="url(#stkD)" filter="url(#bl2)" opacity="1"/><path d="M-12.5 73.0 L-4.5 63.2 Q-1.5 61.4 1.0 63.0 Q5.5 67.0 7.0 77.0" fill="none" stroke="#fff" stroke-width="1.0" opacity="0.36" stroke-linecap="round"/><path d="M8.5 82.0 L14.5 85.0" fill="none" stroke="#fff" stroke-width="0.9" opacity="0.16" stroke-linecap="round"/><path d="M42.0 73.0 L50.0 63.2 Q53.0 61.4 55.5 63.0 Q60.0 67.0 61.5 77.0" fill="none" stroke="#fff" stroke-width="1.0" opacity="0.36" stroke-linecap="round"/><path d="M63.0 82.0 L69.0 85.0" fill="none" stroke="#fff" stroke-width="0.9" opacity="0.16" stroke-linecap="round"/><path d="M96.0 73.6 L104.0 63.8 Q107.0 62.0 109.5 63.6 Q114.0 67.6 115.5 77.6" fill="none" stroke="#fff" stroke-width="1.0" opacity="0.36" stroke-linecap="round"/><path d="M117.0 82.6 L123.0 85.6" fill="none" stroke="#fff" stroke-width="0.9" opacity="0.16" stroke-linecap="round"/><path d="M148.0 73.0 L156.0 63.2 Q159.0 61.4 161.5 63.0 Q166.0 67.0 167.5 77.0" fill="none" stroke="#fff" stroke-width="1.0" opacity="0.36" stroke-linecap="round"/><path d="M169.0 82.0 L175.0 85.0" fill="none" stroke="#fff" stroke-width="0.9" opacity="0.16" stroke-linecap="round"/><path d="M19.6 17.5 Q23.1 24.5 24.6 34.5" fill="none" stroke="#fff" stroke-width="0.9" opacity="0.22" stroke-linecap="round"/><path d="M74.6 20.0 Q78.1 27.0 79.6 37.0" fill="none" stroke="#fff" stroke-width="0.9" opacity="0.22" stroke-linecap="round"/><path d="M55.5 12.0 Q59.0 19.0 60.5 29.0" fill="none" stroke="#fff" stroke-width="0.9" opacity="0.1" stroke-linecap="round"/><rect x="0" y="0" width="194" height="0.9" fill="#000" opacity="0.45"/></g></g></g><g transform="translate(312,191)"><rect x="1.1" y="60.4" width="8.6" height="20.6" fill="none" stroke="#e8dc30" stroke-width="1.1"/><rect x="2.1" y="61.9" width="6.2" height="17.6" fill="none" stroke="#dc2230" stroke-width="1.1"/><rect x="46.9" y="61.4" width="16.5" height="20.1" fill="none" stroke="#e8dc30" stroke-width="1.1"/><rect x="48.6" y="61.9" width="13.5" height="17.2" fill="none" stroke="#dc2230" stroke-width="1.1"/><rect x="100.0" y="61.0" width="16.2" height="17.4" fill="none" stroke="#e8dc30" stroke-width="1.1"/><rect x="101.0" y="61.6" width="14.3" height="15.6" fill="none" stroke="#dc2230" stroke-width="1.1"/><rect x="152.6" y="62.2" width="15.9" height="14.8" fill="none" stroke="#e8dc30" stroke-width="1.1"/><rect x="153.0" y="61.6" width="15.9" height="14.5" fill="none" stroke="#dc2230" stroke-width="1.1"/><rect x="10.8" y="97.9" width="14.5" height="7.4" fill="none" stroke="#dc2230" stroke-width="1.1"/><rect x="63.1" y="97.7" width="16.2" height="7.6" fill="none" stroke="#e8dc30" stroke-width="1.1"/><rect x="64.6" y="98.2" width="14.7" height="6.7" fill="none" stroke="#dc2230" stroke-width="1.1"/><path d="M2.6 63.6 L5.6 71.0 M5.8 63.0 L5.8 78.0 L2.2 78.0" fill="none" stroke="#c8dc3c" stroke-width="0.9" opacity="0.9"/></g><g transform="translate(311.7,190.4)"><rect x="0.2" y="0.2" width="193.8" height="144.4" fill="none" stroke="#000" stroke-opacity="0.38" stroke-width="0.6"/><line x1="-2.2" x2="0" y1="0.00" y2="0.00" stroke="#333" stroke-width="0.6"/><text x="-4" y="5.60" text-anchor="end">25.60</text><line x1="-2.2" x2="0" y1="28.96" y2="28.96" stroke="#333" stroke-width="0.6"/><text x="-4" y="34.56" text-anchor="end">20.68</text><line x1="-2.2" x2="0" y1="57.92" y2="57.92" stroke="#333" stroke-width="0.6"/><text x="-4" y="63.52" text-anchor="end">15.76</text><line x1="-2.2" x2="0" y1="86.88" y2="86.88" stroke="#333" stroke-width="0.6"/><text x="-4" y="92.48" text-anchor="end">10.84</text><line x1="-2.2" x2="0" y1="115.84" y2="115.84" stroke="#333" stroke-width="0.6"/><text x="-4" y="121.44" text-anchor="end">5.92</text><line x1="-2.2" x2="0" y1="144.80" y2="144.80" stroke="#333" stroke-width="0.6"/><text x="-4" y="150.40" text-anchor="end">1.00</text><line y1="144.8" y2="147.0" x1="0.00" x2="0.00" stroke="#333" stroke-width="0.6"/><text x="0.00" y="158.70" text-anchor="middle">0</text><line y1="144.8" y2="147.0" x1="19.42" x2="19.42" stroke="#333" stroke-width="0.6"/><text x="19.42" y="158.70" text-anchor="middle">1</text><line y1="144.8" y2="147.0" x1="38.84" x2="38.84" stroke="#333" stroke-width="0.6"/><text x="38.84" y="158.70" text-anchor="middle">2</text><line y1="144.8" y2="147.0" x1="58.26" x2="58.26" stroke="#333" stroke-width="0.6"/><text x="58.26" y="158.70" text-anchor="middle">3</text><line y1="144.8" y2="147.0" x1="77.68" x2="77.68" stroke="#333" stroke-width="0.6"/><text x="77.68" y="158.70" text-anchor="middle">4</text><line y1="144.8" y2="147.0" x1="97.10" x2="97.10" stroke="#333" stroke-width="0.6"/><text x="97.10" y="158.70" text-anchor="middle">5</text><line y1="144.8" y2="147.0" x1="116.52" x2="116.52" stroke="#333" stroke-width="0.6"/><text x="116.52" y="158.70" text-anchor="middle">6</text><line y1="144.8" y2="147.0" x1="135.94" x2="135.94" stroke="#333" stroke-width="0.6"/><text x="135.94" y="158.70" text-anchor="middle">7</text><line y1="144.8" y2="147.0" x1="155.36" x2="155.36" stroke="#333" stroke-width="0.6"/><text x="155.36" y="158.70" text-anchor="middle">8</text><line y1="144.8" y2="147.0" x1="174.78" x2="174.78" stroke="#333" stroke-width="0.6"/><text x="174.78" y="158.70" text-anchor="middle">9</text><line y1="144.8" y2="147.0" x1="194.20" x2="194.20" stroke="#333" stroke-width="0.6"/><text x="194.20" y="158.70" text-anchor="middle">10</text><text x="97.5" y="173.10" text-anchor="middle">Time (s)</text><text transform="translate(-39.8,73) rotate(-90)" text-anchor="middle">Frequency (kHz)</text></g><g transform="translate(56.0,371.6) scale(1.00103,1.00556)"><g clip-path="url(#cp4)"><g filter="url(#vir4)"><rect width="194" height="144" fill="url(#bgD)"/><path d="M0.8 0 L6.8 0 L9.8 72 L11.3 144 L-3.7 144 L-2.2 72 Z" fill="url(#stkD)" filter="url(#bl2)" opacity="1"/><path d="M18.2 0 L24.2 0 L27.2 72 L28.7 144 L13.7 144 L15.2 72 Z" fill="url(#stkD)" filter="url(#bl2)" opacity="1"/><path d="M36.5 0 L42.5 0 L45.5 72 L47.0 144 L32.0 144 L33.5 72 Z" fill="url(#stkD)" filter="url(#bl2)" opacity="1"/><path d="M54.5 0 L60.5 0 L63.5 72 L65.0 144 L50.0 144 L51.5 72 Z" fill="url(#stkD)" filter="url(#bl2)" opacity="1"/><path d="M72.0 0 L78.0 0 L81.0 72 L82.5 144 L67.5 144 L69.0 72 Z" fill="url(#stkD)" filter="url(#bl2)" opacity="1"/><path d="M90.8 0 L96.8 0 L99.8 72 L101.3 144 L86.3 144 L87.8 72 Z" fill="url(#stkD)" filter="url(#bl2)" opacity="1"/><path d="M108.5 0 L114.5 0 L117.5 72 L119.0 144 L104.0 144 L105.5 72 Z" fill="url(#stkD)" filter="url(#bl2)" opacity="1"/><path d="M126.5 0 L132.5 0 L135.5 72 L137.0 144 L122.0 144 L123.5 72 Z" fill="url(#stkD)" filter="url(#bl2)" opacity="1"/><path d="M143.8 0 L149.8 0 L152.8 72 L154.3 144 L139.3 144 L140.8 72 Z" fill="url(#stkD)" filter="url(#bl2)" opacity="1"/><path d="M161.0 0 L167.0 0 L170.0 72 L171.5 144 L156.5 144 L158.0 72 Z" fill="url(#stkD)" filter="url(#bl2)" opacity="1"/><path d="M179.0 0 L185.0 0 L188.0 72 L189.5 144 L174.5 144 L176.0 72 Z" fill="url(#stkD)" filter="url(#bl2)" opacity="1"/><path d="M-12.5 73.0 L-4.5 63.2 Q-1.5 61.4 1.0 63.0 Q5.5 67.0 7.0 77.0" fill="none" stroke="#fff" stroke-width="1.0" opacity="0.36" stroke-linecap="round"/><path d="M8.5 82.0 L14.5 85.0" fill="none" stroke="#fff" stroke-width="0.9" opacity="0.16" stroke-linecap="round"/><path d="M42.0 73.0 L50.0 63.2 Q53.0 61.4 55.5 63.0 Q60.0 67.0 61.5 77.0" fill="none" stroke="#fff" stroke-width="1.0" opacity="0.36" stroke-linecap="round"/><path d="M63.0 82.0 L69.0 85.0" fill="none" stroke="#fff" stroke-width="0.9" opacity="0.16" stroke-linecap="round"/><path d="M96.0 73.6 L104.0 63.8 Q107.0 62.0 109.5 63.6 Q114.0 67.6 115.5 77.6" fill="none" stroke="#fff" stroke-width="1.0" opacity="0.36" stroke-linecap="round"/><path d="M117.0 82.6 L123.0 85.6" fill="none" stroke="#fff" stroke-width="0.9" opacity="0.16" stroke-linecap="round"/><path d="M148.0 73.0 L156.0 63.2 Q159.0 61.4 161.5 63.0 Q166.0 67.0 167.5 77.0" fill="none" stroke="#fff" stroke-width="1.0" opacity="0.36" stroke-linecap="round"/><path d="M169.0 82.0 L175.0 85.0" fill="none" stroke="#fff" stroke-width="0.9" opacity="0.16" stroke-linecap="round"/><path d="M19.6 17.5 Q23.1 24.5 24.6 34.5" fill="none" stroke="#fff" stroke-width="0.9" opacity="0.22" stroke-linecap="round"/><path d="M74.6 20.0 Q78.1 27.0 79.6 37.0" fill="none" stroke="#fff" stroke-width="0.9" opacity="0.22" stroke-linecap="round"/><path d="M55.5 12.0 Q59.0 19.0 60.5 29.0" fill="none" stroke="#fff" stroke-width="0.9" opacity="0.1" stroke-linecap="round"/><rect x="0" y="0" width="194" height="0.9" fill="#000" opacity="0.45"/></g></g></g><g transform="translate(56.4,372.2)"><rect x="1.1" y="60.4" width="8.6" height="20.6" fill="none" stroke="#e8dc30" stroke-width="1.1"/><rect x="2.1" y="61.9" width="6.2" height="17.6" fill="none" stroke="#dc2230" stroke-width="1.1"/><rect x="46.9" y="61.4" width="16.5" height="20.1" fill="none" stroke="#e8dc30" stroke-width="1.1"/><rect x="48.6" y="61.9" width="13.5" height="17.2" fill="none" stroke="#dc2230" stroke-width="1.1"/><rect x="100.0" y="61.0" width="16.2" height="17.4" fill="none" stroke="#e8dc30" stroke-width="1.1"/><rect x="101.0" y="61.6" width="14.3" height="15.6" fill="none" stroke="#dc2230" stroke-width="1.1"/><rect x="152.6" y="62.2" width="15.9" height="14.8" fill="none" stroke="#e8dc30" stroke-width="1.1"/><rect x="153.0" y="61.6" width="15.9" height="14.5" fill="none" stroke="#dc2230" stroke-width="1.1"/><rect x="10.8" y="97.9" width="14.5" height="7.4" fill="none" stroke="#dc2230" stroke-width="1.1"/><rect x="63.1" y="97.7" width="16.2" height="7.6" fill="none" stroke="#e8dc30" stroke-width="1.1"/><rect x="64.6" y="98.2" width="14.7" height="6.7" fill="none" stroke="#dc2230" stroke-width="1.1"/><path d="M2.6 63.6 L5.6 71.0 M5.8 63.0 L5.8 78.0 L2.2 78.0" fill="none" stroke="#c8dc3c" stroke-width="0.9" opacity="0.9"/></g><g transform="translate(56.0,371.6)"><rect x="0.2" y="0.2" width="193.8" height="144.4" fill="none" stroke="#000" stroke-opacity="0.38" stroke-width="0.6"/><line x1="-2.2" x2="0" y1="0.00" y2="0.00" stroke="#333" stroke-width="0.6"/><text x="-4" y="5.60" text-anchor="end">25.60</text><line x1="-2.2" x2="0" y1="28.96" y2="28.96" stroke="#333" stroke-width="0.6"/><text x="-4" y="34.56" text-anchor="end">20.68</text><line x1="-2.2" x2="0" y1="57.92" y2="57.92" stroke="#333" stroke-width="0.6"/><text x="-4" y="63.52" text-anchor="end">15.76</text><line x1="-2.2" x2="0" y1="86.88" y2="86.88" stroke="#333" stroke-width="0.6"/><text x="-4" y="92.48" text-anchor="end">10.84</text><line x1="-2.2" x2="0" y1="115.84" y2="115.84" stroke="#333" stroke-width="0.6"/><text x="-4" y="121.44" text-anchor="end">5.92</text><line x1="-2.2" x2="0" y1="144.80" y2="144.80" stroke="#333" stroke-width="0.6"/><text x="-4" y="150.40" text-anchor="end">1.00</text><line y1="144.8" y2="147.0" x1="0.00" x2="0.00" stroke="#333" stroke-width="0.6"/><text x="0.00" y="158.70" text-anchor="middle">0</text><line y1="144.8" y2="147.0" x1="19.42" x2="19.42" stroke="#333" stroke-width="0.6"/><text x="19.42" y="158.70" text-anchor="middle">1</text><line y1="144.8" y2="147.0" x1="38.84" x2="38.84" stroke="#333" stroke-width="0.6"/><text x="38.84" y="158.70" text-anchor="middle">2</text><line y1="144.8" y2="147.0" x1="58.26" x2="58.26" stroke="#333" stroke-width="0.6"/><text x="58.26" y="158.70" text-anchor="middle">3</text><line y1="144.8" y2="147.0" x1="77.68" x2="77.68" stroke="#333" stroke-width="0.6"/><text x="77.68" y="158.70" text-anchor="middle">4</text><line y1="144.8" y2="147.0" x1="97.10" x2="97.10" stroke="#333" stroke-width="0.6"/><text x="97.10" y="158.70" text-anchor="middle">5</text><line y1="144.8" y2="147.0" x1="116.52" x2="116.52" stroke="#333" stroke-width="0.6"/><text x="116.52" y="158.70" text-anchor="middle">6</text><line y1="144.8" y2="147.0" x1="135.94" x2="135.94" stroke="#333" stroke-width="0.6"/><text x="135.94" y="158.70" text-anchor="middle">7</text><line y1="144.8" y2="147.0" x1="155.36" x2="155.36" stroke="#333" stroke-width="0.6"/><text x="155.36" y="158.70" text-anchor="middle">8</text><line y1="144.8" y2="147.0" x1="174.78" x2="174.78" stroke="#333" stroke-width="0.6"/><text x="174.78" y="158.70" text-anchor="middle">9</text><line y1="144.8" y2="147.0" x1="194.20" x2="194.20" stroke="#333" stroke-width="0.6"/><text x="194.20" y="158.70" text-anchor="middle">10</text><text x="97.5" y="173.10" text-anchor="middle">Time (s)</text><text transform="translate(-39.8,73) rotate(-90)" text-anchor="middle">Frequency (kHz)</text></g><g transform="translate(311.7,371.6) scale(1.00103,1.00556)"><g clip-path="url(#cp5)"><g filter="url(#vir5)"><rect width="194" height="144" fill="url(#bgE)"/><path d="M8.8 0 L13.2 0 L15.5 72 L17.5 144 L4.5 144 L6.5 72 Z" fill="url(#stkE)" filter="url(#bl2)" opacity="1"/><path d="M26.9 0 L31.4 0 L33.6 72 L35.6 144 L22.6 144 L24.6 72 Z" fill="url(#stkE)" filter="url(#bl2)" opacity="1"/><path d="M44.9 0 L49.4 0 L51.7 72 L53.7 144 L40.7 144 L42.7 72 Z" fill="url(#stkE)" filter="url(#bl2)" opacity="1"/><path d="M63.1 0 L67.6 0 L69.8 72 L71.8 144 L58.8 144 L60.8 72 Z" fill="url(#stkE)" filter="url(#bl2)" opacity="1"/><path d="M81.1 0 L85.6 0 L87.9 72 L89.9 144 L76.9 144 L78.9 72 Z" fill="url(#stkE)" filter="url(#bl2)" opacity="1"/><path d="M99.2 0 L103.8 0 L106.0 72 L108.0 144 L95.0 144 L97.0 72 Z" fill="url(#stkE)" filter="url(#bl2)" opacity="1"/><path d="M117.4 0 L121.9 0 L124.1 72 L126.1 144 L113.1 144 L115.1 72 Z" fill="url(#stkE)" filter="url(#bl2)" opacity="1"/><path d="M135.5 0 L140.0 0 L142.2 72 L144.2 144 L131.2 144 L133.2 72 Z" fill="url(#stkE)" filter="url(#bl2)" opacity="1"/><path d="M153.6 0 L158.1 0 L160.3 72 L162.3 144 L149.3 144 L151.3 72 Z" fill="url(#stkE)" filter="url(#bl2)" opacity="1"/><path d="M171.6 0 L176.1 0 L178.4 72 L180.4 144 L167.4 144 L169.4 72 Z" fill="url(#stkE)" filter="url(#bl2)" opacity="1"/><path d="M189.8 0 L194.2 0 L196.5 72 L198.5 144 L185.5 144 L187.5 72 Z" fill="url(#stkE)" filter="url(#bl2)" opacity="1"/><path d="M10.3 14.0 Q14.0 22.0 15.0 30.0" fill="none" stroke="#fff" stroke-width="0.9" opacity="0.22" stroke-linecap="round"/><path d="M65.7 19.7 Q68.4 25.4 69.4 31.0" fill="none" stroke="#fff" stroke-width="0.9" opacity="0.22" stroke-linecap="round"/><path d="M118.5 19.0 Q121.0 26.5 122.0 34.0" fill="none" stroke="#fff" stroke-width="0.9" opacity="0.22" stroke-linecap="round"/><path d="M173.0 18.0 Q176.0 25.5 177.0 33.0" fill="none" stroke="#fff" stroke-width="0.9" opacity="0.22" stroke-linecap="round"/><path d="M40.3 60.2 L44.8 60.8 Q47.8 63.4 50.0 70.7 L53.0 77.2" fill="none" stroke="#fff" stroke-width="1.1" opacity="0.5" stroke-linecap="round"/><path d="M19.0 80.0 L37.5 64.0" fill="none" stroke="#fff" stroke-width="0.8" opacity="0.2" stroke-linecap="round"/><path d="M94.6 62.4 L99.1 63.0 Q102.1 65.6 104.3 72.9 L107.3 79.4" fill="none" stroke="#fff" stroke-width="1.1" opacity="0.5" stroke-linecap="round"/><path d="M73.3 82.2 L91.8 66.2" fill="none" stroke="#fff" stroke-width="0.8" opacity="0.2" stroke-linecap="round"/><path d="M149.0 61.3 L153.5 61.9 Q156.5 64.5 158.7 71.8 L161.7 78.3" fill="none" stroke="#fff" stroke-width="1.1" opacity="0.5" stroke-linecap="round"/><path d="M127.7 81.1 L146.2 65.1" fill="none" stroke="#fff" stroke-width="0.8" opacity="0.2" stroke-linecap="round"/><path d="M9.4 97.7 L17.9 103.3" fill="none" stroke="#fff" stroke-width="0.9" opacity="0.25" stroke-linecap="round"/><path d="M64.5 98.8 L73.0 104.4" fill="none" stroke="#fff" stroke-width="0.9" opacity="0.25" stroke-linecap="round"/><path d="M118.0 99.0 L126.5 104.6" fill="none" stroke="#fff" stroke-width="0.9" opacity="0.25" stroke-linecap="round"/><path d="M171.0 98.0 L179.5 103.6" fill="none" stroke="#fff" stroke-width="0.9" opacity="0.25" stroke-linecap="round"/><rect x="0" y="0" width="194" height="0.9" fill="#000" opacity="0.45"/></g></g></g><g transform="translate(312,372)"><rect x="5.0" y="9.7" width="12.8" height="29.6" fill="none" stroke="#dc2230" stroke-width="1.1"/><rect x="60.3" y="13.2" width="13.3" height="25.8" fill="none" stroke="#e8dc30" stroke-width="1.1"/><rect x="58.6" y="10.2" width="14.4" height="29.7" fill="none" stroke="#dc2230" stroke-width="1.1"/><rect x="114.9" y="13.9" width="10.6" height="26.7" fill="none" stroke="#dc2230" stroke-width="1.1"/><rect x="168.3" y="14.5" width="13.3" height="25.7" fill="none" stroke="#e8dc30" stroke-width="1.1"/><rect x="167.9" y="9.1" width="11.6" height="30.9" fill="none" stroke="#dc2230" stroke-width="1.1"/><rect x="37.5" y="58.3" width="18.0" height="23.5" fill="none" stroke="#e8dc30" stroke-width="1.1"/><rect x="38.6" y="59.3" width="16.6" height="22.9" fill="none" stroke="#dc2230" stroke-width="1.1"/><rect x="92.6" y="60.2" width="17.0" height="22.2" fill="none" stroke="#e8dc30" stroke-width="1.1"/><rect x="94.0" y="60.7" width="15.3" height="21.1" fill="none" stroke="#dc2230" stroke-width="1.1"/><rect x="146.8" y="59.8" width="15.7" height="22.6" fill="none" stroke="#e8dc30" stroke-width="1.1"/><rect x="148.0" y="59.8" width="16.5" height="23.1" fill="none" stroke="#dc2230" stroke-width="1.1"/><rect x="2.8" y="97.1" width="16.8" height="9.1" fill="none" stroke="#e8dc30" stroke-width="1.1"/><rect x="2.2" y="96.1" width="18.0" height="10.3" fill="none" stroke="#dc2230" stroke-width="1.1"/><rect x="59.9" y="98.2" width="15.4" height="9.8" fill="none" stroke="#e8dc30" stroke-width="1.1"/><rect x="59.2" y="97.3" width="16.9" height="10.9" fill="none" stroke="#dc2230" stroke-width="1.1"/><rect x="112.8" y="97.7" width="16.6" height="11.4" fill="none" stroke="#e8dc30" stroke-width="1.1"/><rect x="111.0" y="96.9" width="19.0" height="10.1" fill="none" stroke="#dc2230" stroke-width="1.1"/><rect x="164.6" y="96.4" width="18.4" height="9.2" fill="none" stroke="#e8dc30" stroke-width="1.1"/><rect x="167.9" y="96.4" width="16.6" height="11.0" fill="none" stroke="#dc2230" stroke-width="1.1"/></g><g transform="translate(311.7,371.6)"><rect x="0.2" y="0.2" width="193.8" height="144.4" fill="none" stroke="#000" stroke-opacity="0.38" stroke-width="0.6"/><line x1="-2.2" x2="0" y1="0.00" y2="0.00" stroke="#333" stroke-width="0.6"/><text x="-4" y="5.60" text-anchor="end">25.60</text><line x1="-2.2" x2="0" y1="28.96" y2="28.96" stroke="#333" stroke-width="0.6"/><text x="-4" y="34.56" text-anchor="end">20.68</text><line x1="-2.2" x2="0" y1="57.92" y2="57.92" stroke="#333" stroke-width="0.6"/><text x="-4" y="63.52" text-anchor="end">15.76</text><line x1="-2.2" x2="0" y1="86.88" y2="86.88" stroke="#333" stroke-width="0.6"/><text x="-4" y="92.48" text-anchor="end">10.84</text><line x1="-2.2" x2="0" y1="115.84" y2="115.84" stroke="#333" stroke-width="0.6"/><text x="-4" y="121.44" text-anchor="end">5.92</text><line x1="-2.2" x2="0" y1="144.80" y2="144.80" stroke="#333" stroke-width="0.6"/><text x="-4" y="150.40" text-anchor="end">1.00</text><line y1="144.8" y2="147.0" x1="0.00" x2="0.00" stroke="#333" stroke-width="0.6"/><text x="0.00" y="158.70" text-anchor="middle">0</text><line y1="144.8" y2="147.0" x1="19.42" x2="19.42" stroke="#333" stroke-width="0.6"/><text x="19.42" y="158.70" text-anchor="middle">1</text><line y1="144.8" y2="147.0" x1="38.84" x2="38.84" stroke="#333" stroke-width="0.6"/><text x="38.84" y="158.70" text-anchor="middle">2</text><line y1="144.8" y2="147.0" x1="58.26" x2="58.26" stroke="#333" stroke-width="0.6"/><text x="58.26" y="158.70" text-anchor="middle">3</text><line y1="144.8" y2="147.0" x1="77.68" x2="77.68" stroke="#333" stroke-width="0.6"/><text x="77.68" y="158.70" text-anchor="middle">4</text><line y1="144.8" y2="147.0" x1="97.10" x2="97.10" stroke="#333" stroke-width="0.6"/><text x="97.10" y="158.70" text-anchor="middle">5</text><line y1="144.8" y2="147.0" x1="116.52" x2="116.52" stroke="#333" stroke-width="0.6"/><text x="116.52" y="158.70" text-anchor="middle">6</text><line y1="144.8" y2="147.0" x1="135.94" x2="135.94" stroke="#333" stroke-width="0.6"/><text x="135.94" y="158.70" text-anchor="middle">7</text><line y1="144.8" y2="147.0" x1="155.36" x2="155.36" stroke="#333" stroke-width="0.6"/><text x="155.36" y="158.70" text-anchor="middle">8</text><line y1="144.8" y2="147.0" x1="174.78" x2="174.78" stroke="#333" stroke-width="0.6"/><text x="174.78" y="158.70" text-anchor="middle">9</text><line y1="144.8" y2="147.0" x1="194.20" x2="194.20" stroke="#333" stroke-width="0.6"/><text x="194.20" y="158.70" text-anchor="middle">10</text><text x="97.5" y="173.10" text-anchor="middle">Time (s)</text><text transform="translate(-39.8,73) rotate(-90)" text-anchor="middle">Frequency (kHz)</text></g></svg>
</body></html>
